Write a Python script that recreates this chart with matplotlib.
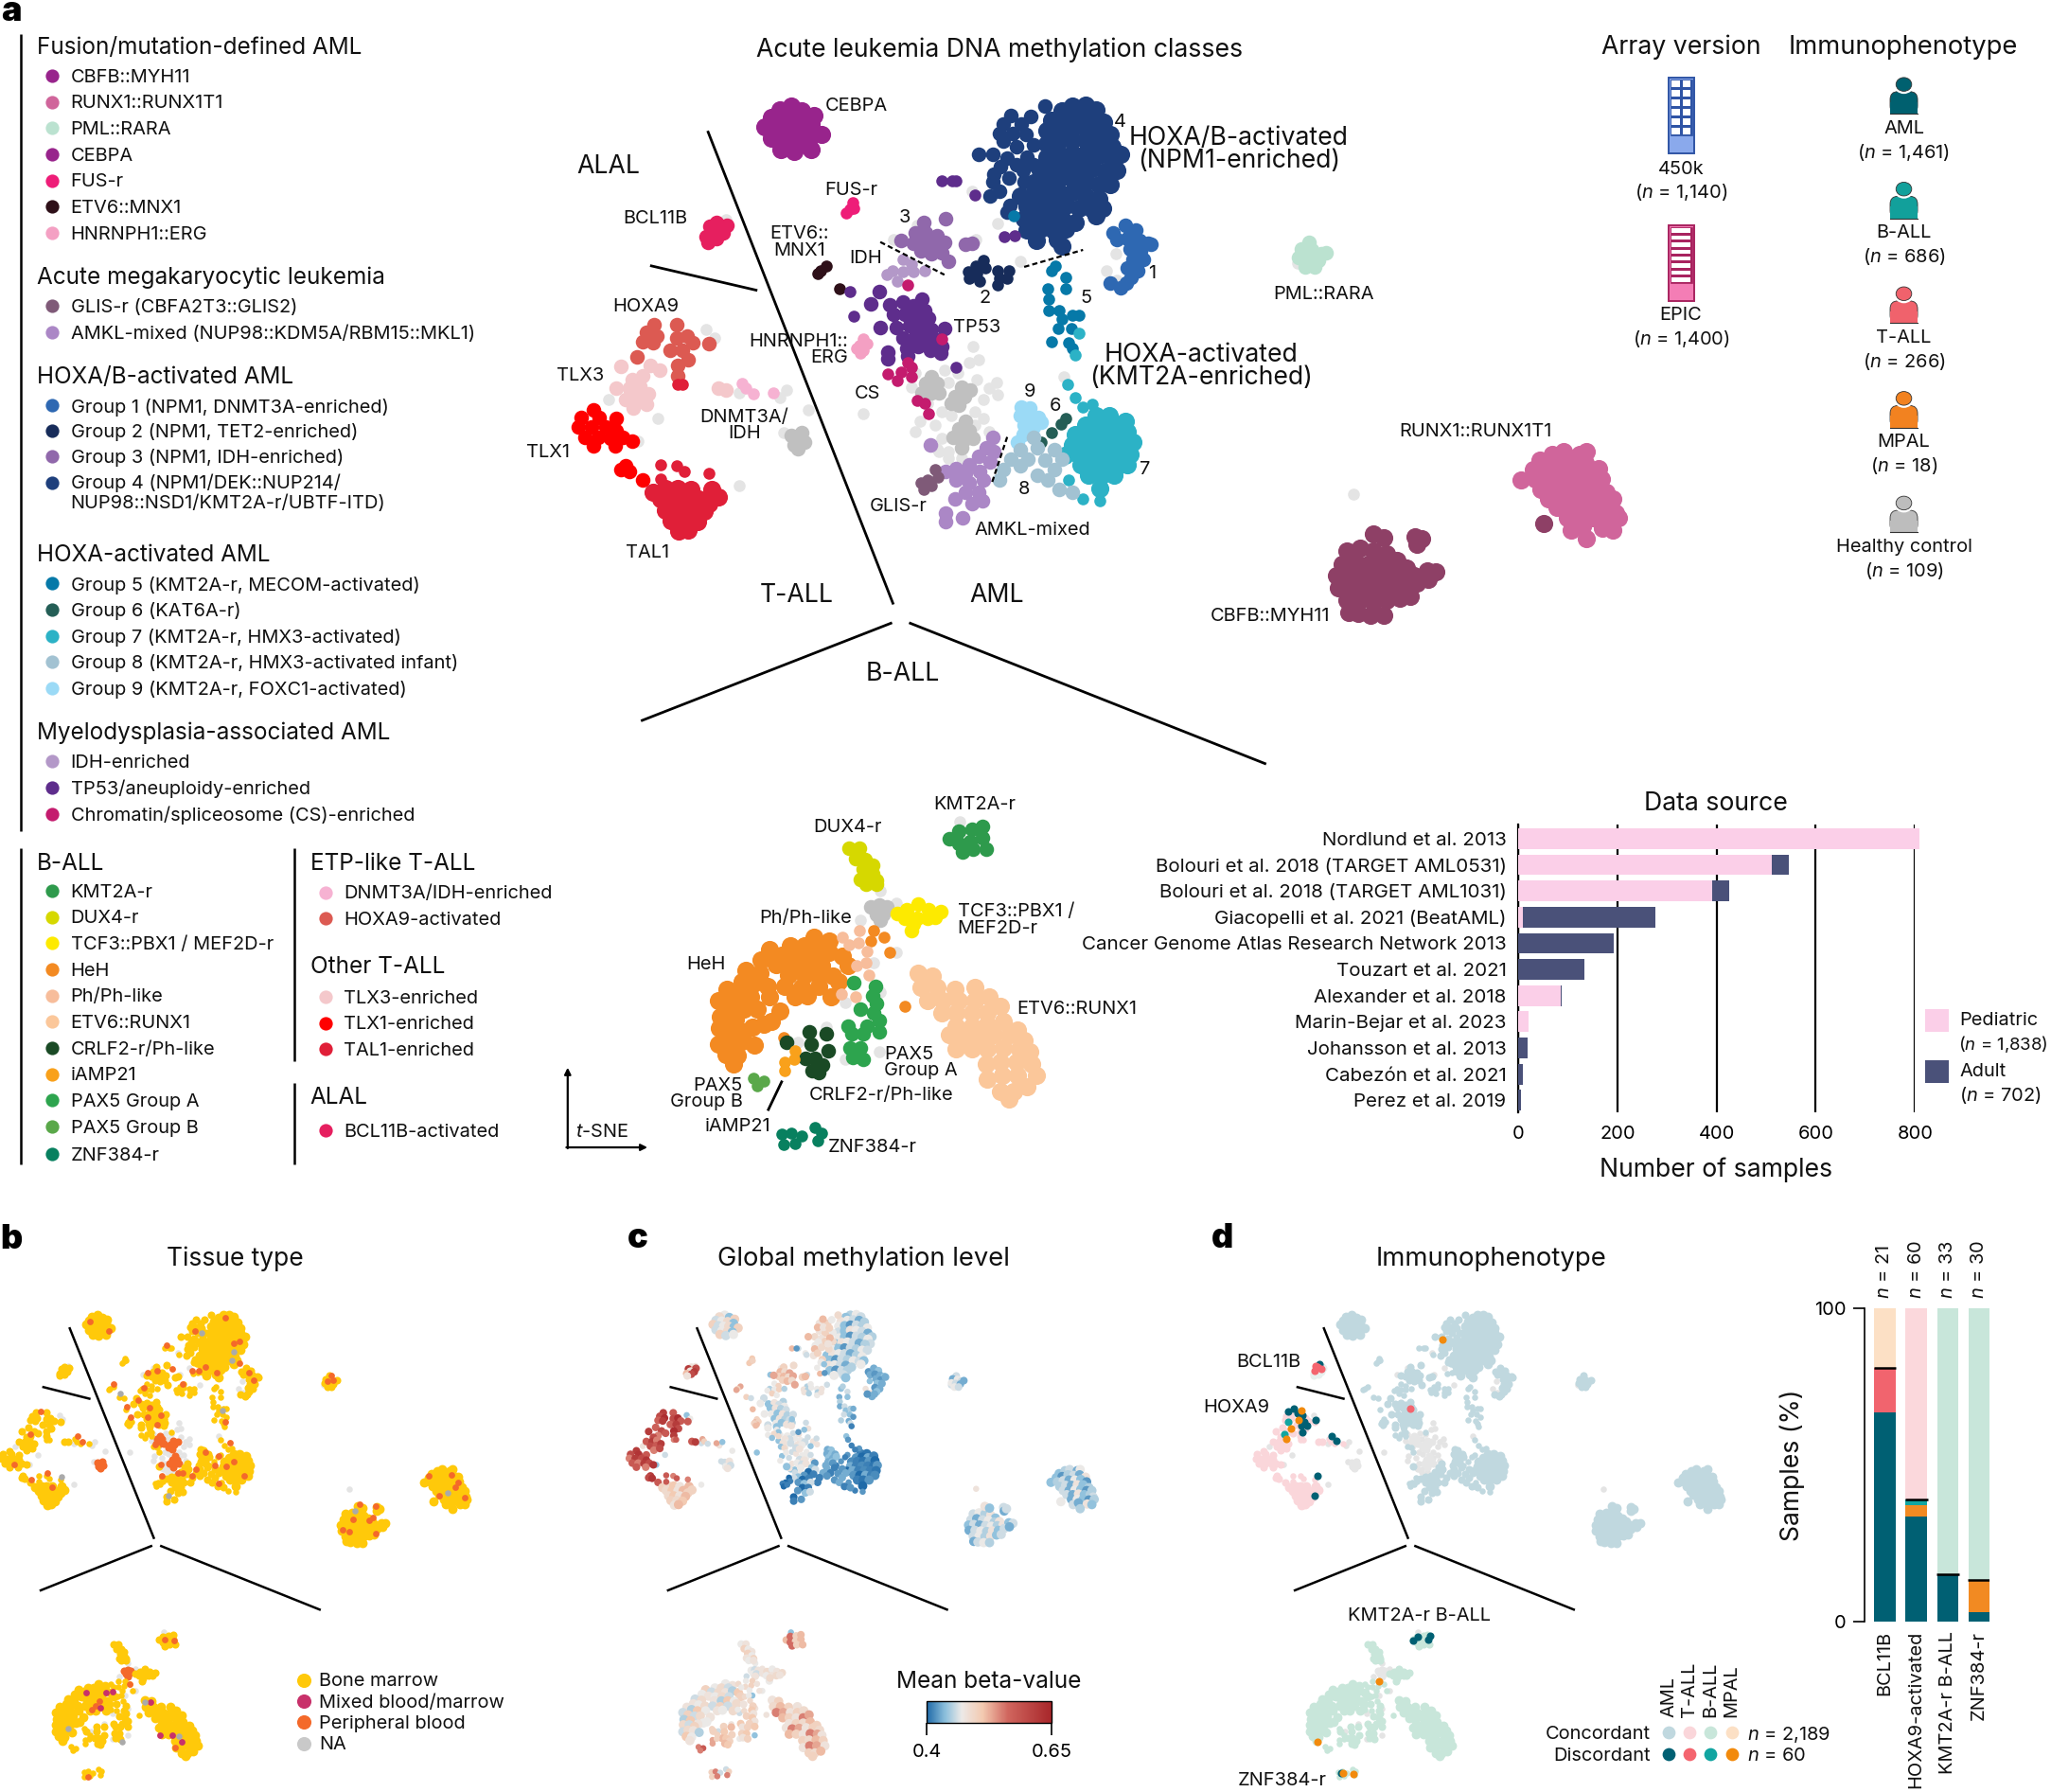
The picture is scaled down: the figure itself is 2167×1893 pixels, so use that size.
import itertools
import matplotlib
matplotlib.use("Agg")
import matplotlib.pyplot as plt
from matplotlib import patches
from matplotlib.colors import LinearSegmentedColormap, Normalize
from matplotlib.cm import ScalarMappable

plt.rcParams['font.family'] = ['Inter', 'DejaVu Sans']
plt.rcParams['mathtext.fontset'] = 'custom'
plt.rcParams['mathtext.rm'] = 'Inter'
plt.rcParams['mathtext.it'] = 'Inter:italic'
plt.rcParams['axes.unicode_minus'] = False

# --- t-SNE points ---
cbfb = [(1030,421),(1040,419),(1050,421),(1060,423),(1068,428),(1026,431),(1036,429),(1046,431),(1056,432),(1066,435),(1075,434),
        (1022,440),(1031,439),(1041,440),(1051,441),(1061,442),(1071,441),(1081,440),(1091,436),(1098,437),(1023,449),(1033,449),
        (1043,450),(1053,451),(1063,450),(1073,449),(1083,446),(1092,443),(1030,459),(1040,459),(1050,460),(1060,459),(1070,457),
        (1078,456),(1031,468),(1038,469),(1048,470),(1058,470),(1050,408),(1058,411),(1082,410),(1083,416),(1087,412),(1180,400)]
runx1 = [(1177,352),(1187,347),(1195,345),(1208,347),(1213,345),(1172,359),(1182,357),(1192,354),(1202,355),(1212,354),(1222,358),
         (1163,367),(1174,366),(1184,364),(1194,363),(1204,363),(1214,362),(1224,366),(1178,374),(1188,372),(1198,372),(1208,371),
         (1218,371),(1228,376),(1184,381),(1194,381),(1204,380),(1214,379),(1224,381),(1233,381),(1190,388),(1200,388),(1210,387),
         (1220,388),(1230,388),(1235,392),(1198,396),(1208,396),(1218,396),(1228,397),(1237,396),(1201,405),(1210,402),(1225,404),
         (1233,405),(1213,412)]
pml = [(1001,185),(995,190),(1003,191),(1010,194),(1014,193),(993,197),(1000,198),(1008,199),(998,204),(1005,204)]
cebpa = [(605,81),(596,84),(613,85),(622,88),(590,90),(600,91),(610,92),(620,95),(585,97),(594,99),(603,100),(612,100),(621,101),
         (628,103),(590,106),(600,108),(610,108),(618,110),(597,114),(607,116),(620,114)]
fus = [(652,155),(650,160),(647,163),(653,159)]
bcl11b = [(548,170),(543,173),(552,174),(556,172),(546,177),(553,178),(540,181),(548,182),(541,185)]
etv6_mnx1 = [(632,203),(627,207),(625,209),(642,221)]
hnrnph1 = [(660,259),(657,264),(663,263),(660,268),(655,266),(658,270)]
group4 = [(820,81),(830,80),(838,84),(812,85),(804,92),(815,90),(825,89),(835,90),(844,93),(800,100),(810,99),(820,98),(830,98),
          (840,100),(849,103),(800,110),(810,108),(820,107),(830,107),(840,109),(850,112),(857,118),(800,120),(810,118),(820,117),
          (830,117),(840,119),(850,122),(854,130),(795,130),(805,128),(815,127),(825,127),(835,129),(845,131),(790,140),(800,138),
          (810,137),(820,137),(830,139),(840,141),(849,141),(780,150),(790,148),(800,147),(810,147),(820,147),(830,150),(840,152),
          (785,158),(795,157),(805,156),(815,157),(825,159),(835,160),(843,159),(783,167),(793,166),(803,166),(812,167),(822,170),
          (838,165),(785,176),(795,175),(805,176),(815,175),(792,184),(808,183),(812,188)]
group4_arm = [(767,95),(781,95),(788,89),(799,81),(773,88),(767,108),(777,112),(790,111),(759,118),(748,118),(770,121),(777,126),
              (760,133),(783,139),(759,139),(757,150),(772,157),(770,162),(790,126),(764,102),(774,102),(784,103),(765,127),(771,136),
              (785,120),(782,130),(764,146)]
group1 = [(851,178),(860,172),(868,176),(854,183),(862,182),(871,184),(878,186),(864,190),(872,192),(880,187),(866,198),(874,198),
          (862,205),(870,207),(865,212),(857,220),(849,216),(861,216)]
group2 = [(746,203),(752,199),(740,208),(747,209),(753,205),(741,213),(749,215),(763,207),(771,207),(764,213),(763,218),(770,213)]
group3 = [(706,170),(700,178),(708,178),(716,180),(698,186),(706,186),(714,187),(722,185),(704,192),(712,194),(720,193),(725,200),
          (738,187),(743,186),(723,167),(689,184)]
idh = [(690,198),(697,202),(682,207),(690,208),(698,208),(707,207),(678,210),(686,215)]
tp53 = [(672,223),(666,232),(680,233),(690,231),(705,229),(698,234),(707,237),(683,240),(692,240),(701,241),(710,243),(685,250),
        (695,249),(704,250),(712,252),(722,251),(673,250),(690,258),(699,258),(708,259),(716,260),(693,266),(702,265),(711,268),
        (720,265),(679,269),(679,274),(694,272),(719,270)]
tp53_strays = [(650,223),(653,242),(731,281),(731,138),(720,138),(728,138),(745,149),(768,181),(776,180)]
cs = [(694,277),(697,281),(689,284),(679,286),(686,291),(697,288),(694,218),(701,306),(707,308),(710,316),(720,259)]
group5 = [(804,207),(807,203),(801,221),(815,212),(815,221),(802,229),(802,237),(810,237),(812,244),(820,241),(825,241),(809,251),
          (819,251),(804,261),(817,262),(820,266),(775,165)]
group7 = [(838,318),(848,318),(830,325),(840,324),(850,325),(860,322),(822,332),(832,331),(842,331),(852,331),(862,330),(820,340),
          (830,339),(840,339),(850,339),(860,339),(866,338),(814,348),(824,347),(834,347),(844,347),(854,347),(864,347),(826,355),
          (836,355),(846,355),(856,355),(862,355),(832,363),(842,363),(852,363),(841,373)]
group7_strays = [(825,255),(822,271),(816,294),(822,304),(835,309),(828,311),(817,367),(828,381),(841,383)]
group9 = [(781,311),(787,312),(780,318),(788,319),(794,319),(783,325),(790,326),(796,323),(782,332),(789,332),(778,338)]
group6 = [(815,320),(811,324),(804,331),(796,338)]
group8 = [(790,334),(780,344),(793,342),(806,344),(773,351),(786,351),(799,352),(812,351),(767,359),(780,356),(806,359),(764,367),
          (793,363),(801,367),(810,374),(820,376)]
amkl = [(759,334),(754,342),(760,345),(748,349),(757,353),(741,355),(731,358),(723,360),(738,362),(749,360),(731,367),(741,369),
        (752,367),(738,376),(748,376),(730,381),(743,385),(751,383),(723,392),(723,399),(736,396),(711,340)]
glis = [(715,359),(717,365),(709,367),(704,369),(706,374),(712,371)]
hoxa9 = [(500,248),(494,254),(502,257),(517,248),(491,261),(499,262),(517,258),(525,257),(530,262),(512,268),(522,268),(526,275),
         (518,279),(542,263),(487,273),(518,287)]
tlx3 = [(497,279),(504,283),(475,280),(491,287),(483,290),(471,297),(481,297),(489,295),(478,305),(488,304),(496,301),(484,312),
        (494,309),(549,297),(555,298)]
tlx1 = [(454,313),(444,319),(458,319),(471,320),(442,326),(452,326),(463,326),(471,329),(447,334),(457,334),(467,335),(476,334),
        (483,337),(454,341),(470,341),(478,356),(475,359),(481,360),(491,367)]
tal1 = [(499,376),(509,373),(518,373),(528,374),(544,374),(549,380),(505,381),(515,381),(525,381),(534,381),(542,385),(509,390),
        (518,390),(528,390),(538,391),(513,398),(523,398),(533,399),(519,406),(526,405)]
tal1_strays = [(505,355),(517,356),(523,360),(542,362),(505,366),(518,294),(522,294)]
dnmt3a = [(567,293),(570,297),(576,301),(591,300)]
kmt2a_b = [(726,641),(733,635),(743,634),(751,632),(733,645),(742,643),(751,640),(736,651),(744,649),(754,649)]
dux4 = [(649,648),(657,648),(654,656),(661,657),(667,661),(660,664),(667,668),(658,672),(670,673),(662,676),(670,676)]
tcf3 = [(686,698),(693,695),(702,691),(710,695),(719,697),(692,702),(701,702),(709,702),(697,711),(715,701),(698,706)]
heh = [(622,716),(634,719),(604,723),(615,723),(627,723),(588,726),(598,730),(610,731),(622,731),(634,728),(644,731),(582,734),
       (593,737),(604,738),(616,738),(628,738),(648,738),(570,742),(581,744),(603,745),(615,745),(626,745),(637,746),(567,750),
       (576,752),(587,754),(600,754),(613,755),(626,754),(641,750),(556,756),(564,760),(574,762),(588,762),(608,762),(617,761),
       (635,762),(549,765),(558,769),(569,771),(579,771),(596,773),(551,777),(562,779),(584,783),(575,785),(590,781),(550,786),
       (560,786),(569,789),(549,798),(558,795),(567,796),(577,799),(555,806),(564,807),(561,813)]
heh_strays = [(599,793),(680,728),(668,711),(676,716),(666,719),(692,769)]
ph_like = [(644,716),(657,711),(656,721),(663,727),(655,738),(662,736),(664,745),(643,760),(654,762),(649,722)]
etv6_runx1 = [(702,744),(713,746),(704,755),(716,755),(730,756),(745,755),(709,765),(721,765),(733,765),(745,765),(756,762),(720,774),
              (731,774),(743,774),(755,774),(765,769),(731,784),(743,784),(755,783),(767,781),(778,787),(726,791),(736,793),(748,792),
              (760,791),(772,791),(783,795),(731,802),(743,802),(755,802),(767,801),(779,802),(787,804),(754,813),(765,812),(777,812),
              (789,813),(755,825),(766,822),(778,822),(792,822),(765,834),(775,834),(785,831),(771,840)]
pax5a = [(669,754),(667,761),(670,767),(658,771),(668,774),(672,780),(663,784),(648,784),(651,790),(660,790),(672,789),(653,751),
         (650,801),(658,801),(652,808),(660,810)]
crlf2 = [(619,789),(632,790),(620,798),(633,803),(616,809),(623,809),(629,814),(621,818),(626,820),(601,797)]
iamp21 = [(608,803),(600,812),(607,810),(600,818)]
pax5b = [(576,824),(584,826),(579,830)]
znf384 = [(598,867),(605,866),(613,868),(599,875),(608,874),(623,862),(628,866),(625,872)]
# grey: unclassified samples, and the darker healthy control clusters
unclassified = [(744,265),(748,275),(741,277),(700,285),(722,283),(732,285),(697,296),(725,292),(747,290),(756,297),(752,305),(745,315),
                (720,315),(727,318),(703,322),(700,330),(715,325),(720,335),(725,345),(745,325),(752,320),(756,330),(718,345),(735,350),
                (725,350),(716,343),(660,316),(709,308),(762,292),(763,302),(813,288),(763,171),(780,200),(846,207),(853,194),(743,146),
                (746,183),(854,214),(683,183),(701,172),(992,201),(1035,378),(540,252),(546,258),(503,320),(465,305),(488,337),(565,371),
                (565,300),(596,304),(601,298),(618,313),(599,331),(555,168),(734,628),(673,681),(658,703),(685,690),(668,736),(685,728),
                (646,766),(673,758),(672,804),(646,810),(610,797),(632,785)]
control = [(712,288),(716,293),(708,293),(712,300),(718,300),(705,300),(735,296),(742,298),(730,303),(737,303),(727,308),(733,310),
           (738,322),(733,328),(741,329),(729,334),(737,336),(744,335),(735,342),(605,333),(613,331),(607,340),(615,338),(610,343),
           (666,693),(672,692),(678,693),(670,699),(675,699),(673,703)]

# cluster colours; beta-values repeat over the points of each cluster
BONE, MIXED, BLOOD, NA = '#ffc90a', '#c8316a', '#f4692a', '#c9c9c9'
AML_C, TALL_C, BALL_C = '#c0d8df', '#fad6da', '#c8e6da'
GREY_L, GREY_D = '#e4e4e4', '#c0c0c0'
clusters = [
    (unclassified, GREY_L, GREY_L, [.46,.48,.44,.47]),
    (control, GREY_D, '#e6e6e6', [.47,.46,.48]),
    (cbfb, '#8e4066', AML_C, [.46,.47,.45,.48,.44,.46,.43]),
    (runx1, '#d0659b', AML_C, [.44,.45,.46,.43,.47,.44,.42,.45,.46,.43,.48]),
    (pml, '#bbe2d0', AML_C, [.46,.43,.47]),
    (cebpa, '#98248c', AML_C, [.47,.49,.44,.50,.46]),
    (fus, '#ee1d78', AML_C, [.51,.5]),
    (bcl11b, '#e61f5f', '#e8f0ee', [.48,.62,.52,.6]),
    (etv6_mnx1, '#2e1019', AML_C, [.53,.5]),
    (hnrnph1, '#f4a0c3', AML_C, [.5,.52]),
    (group4, '#1e3f7c', AML_C, [.45,.47,.46,.44,.48,.47,.46,.43,.45,.47,.44,.42,.46]),
    (group4_arm, '#1e3f7c', AML_C, [.48,.5,.47,.49,.52]),
    (group1, '#2e68b2', AML_C, [.42,.43,.44,.43]),
    (group2, '#172c5a', AML_C, [.45,.47,.48]),
    (group3, '#9068ab', AML_C, [.5,.52,.49,.53]),
    (idh, '#b398c8', AML_C, [.47,.5,.45]),
    (tp53, '#5e2d8c', AML_C, [.46,.47,.44,.48,.45]),
    (tp53_strays, '#5e2d8c', AML_C, [.46,.52,.42]),
    (cs, '#c41b6e', AML_C, [.47,.44,.49]),
    (group5, '#0679a8', AML_C, [.44,.45,.43,.46]),
    (group7, '#2cb2c6', AML_C, [.41,.405,.42,.40,.43,.41,.415]),
    (group7_strays, '#2cb2c6', AML_C, [.42,.41]),
    (group9, '#9bdaf6', AML_C, [.43,.44]),
    (group6, '#245e56', AML_C, [.42,.41]),
    (group8, '#a2c2d2', AML_C, [.42,.43,.41]),
    (amkl, '#ab87c6', AML_C, [.42,.44,.46,.40,.41]),
    (glis, '#7f5a78', AML_C, [.40,.41]),
    (hoxa9, '#dc5a52', TALL_C, [.62,.6,.64,.58,.57]),
    (tlx3, '#f4c8cb', TALL_C, [.6,.58,.62,.55]),
    (tlx1, '#fe0000', TALL_C, [.62,.6,.63,.58,.55]),
    (tal1, '#e01f38', TALL_C, [.5,.49,.51,.48,.52]),
    (tal1_strays, '#e01f38', TALL_C, [.58,.55]),
    (dnmt3a, '#f6b2d2', TALL_C, [.53,.5,.46]),
    (kmt2a_b, '#2e9a4c', BALL_C, [.52,.56,.5]),
    (dux4, '#d6d800', BALL_C, [.47,.48,.5]),
    (tcf3, '#fdea00', BALL_C, [.48,.49,.47]),
    (heh, '#f38a22', BALL_C, [.47,.48,.47,.49,.46,.5,.46,.49,.48,.45,.51]),
    (heh_strays, '#f38a22', BALL_C, [.5,.48]),
    (ph_like, '#f7bd9b', BALL_C, [.49,.47]),
    (etv6_runx1, '#fbc79a', BALL_C, [.48,.5,.49,.52,.5,.48,.55,.53]),
    (pax5a, '#2da44e', BALL_C, [.5,.51,.48]),
    (crlf2, '#1a4a25', BALL_C, [.5,.52,.51]),
    (iamp21, '#f9a11b', BALL_C, [.5,.53]),
    (pax5b, '#5aa84a', BALL_C, [.55,.58]),
    (znf384, '#08805f', BALL_C, [.5,.55,.46]),
]
dense = [cbfb, runx1, cebpa, group4, group7, etv6_runx1, heh, tal1]
medium = [group4_arm, hoxa9, tlx1, tlx3, group1, group3, tp53, kmt2a_b, amkl, group8, pml, control, group9, dux4, tcf3, crlf2, bcl11b, pax5a]

# panel b overlays, panel d discordant samples (positions)
tissue_blood = [(69,1010),(83,1017),(149,1017),(172,1007),(183,1025),(179,1027),(157,1045),(152,1048),(166,1049),(183,1042),(190,1049),
                (194,1055),(127,1028),(147,1048),(120,1048),(113,1049),(132,1046),(140,1058),(110,1061),(87,1058),(97,1075),(100,1083),
                (106,1070),(114,1076),(123,1082),(113,1083),(120,1089),(119,1104),(123,1119),(172,1087),(176,1103),(157,1110),(167,1113),
                (179,1117),(164,1120),(173,1121),(187,1128),(167,1134),(150,1123),(147,1128),(140,1126),(136,1126),(124,1128),(31,1079),
                (23,1096),(11,1119),(24,1131),(36,1126),(40,1137),(59,1098),(63,1102),(250,1056),(253,1051),(255,1055),(328,1128),
                (345,1127),(350,1133),(348,1137),(336,1143),(355,1145),(262,1169),(275,1150),(282,1162),(267,1171),(287,1172),(270,1161),
                (287,1151),(285,1160),(76,1300),(70,1307),(126,1253),(133,1254),(99,1287),(134,1336),(67,1358),(73,1304)]
tissue_mixed = [(66,1294),(81,1294),(122,1326),(139,1331),(115,1301),(77,1305),(86,1293),(132,1326)]
tissue_na = [(154,1019),(179,1033),(177,1040),(170,1078),(47,1129),(92,1065),(271,1155),(342,1141),(129,1143),(93,1331),(111,1301),
             (137,1327),(52,1321)]
disc_aml = [(985,1079),(989,1077),(992,1080),(996,1082),(997,1087),(995,1090),(999,1090),(996,1095),(1006,1085),(1018,1098),(1022,1101),
            (1007,1128),(1005,1143),(1080,1254),(1084,1251),(1092,1253),(1093,1250),(1025,1355),(1009,1043)]
disc_tall = [(1078,1077),(1005,1048),(1007,1045),(1010,1046),(1006,1044)]
disc_ball = [(985,1087),(982,1096)]
disc_mpal = [(995,1078),(993,1085),(987,1092),(983,1100),(1103,1024),(1054,1285),(1007,1331),(1027,1355),(1035,1356)]

# --- bar data ---
studies = ['Nordlund et al. 2013', 'Bolouri et al. 2018 (TARGET AML0531)', 'Bolouri et al. 2018 (TARGET AML1031)',
           'Giacopelli et al. 2021 (BeatAML)', 'Cancer Genome Atlas Research Network 2013', 'Touzart et al. 2021',
           'Alexander et al. 2018', 'Marin-Bejar et al. 2023', 'Johansson et al. 2013', 'Cabezón et al. 2021', 'Perez et al. 2019']
pediatric = [809, 512, 391, 9, 0, 0, 86, 21, 0, 0, 0]
adult = [0, 33, 35, 267, 192, 134, 2, 0, 19, 9, 6]

disc_groups = ['BCL11B', 'HOXA9-activated', 'KMT2A-r B-ALL', 'ZNF384-r']
disc_n = [21, 60, 33, 30]
seg_aml = [66.6, 33.6, 15.2, 3.0]
seg_mpal_low = [0, 3.6, 0, 10.2]
seg_ball = [0, 1.7, 0, 0]
seg_tall = [14.4, 0, 0, 0]
seg_conc_tall = [0, 61.1, 0, 0]
seg_conc_ball = [0, 0, 84.8, 86.8]
seg_conc_mpal = [19, 0, 0, 0]

legend_left = [
    ('Fusion/mutation-defined AML', 35, [
        ('CBFB::MYH11', 58, '#98248c'), ('RUNX1::RUNX1T1', 78, '#d0659b'), ('PML::RARA', 98, '#bbe2d0'), ('CEBPA', 118, '#98248c'),
        ('FUS-r', 138, '#ee1d78'), ('ETV6::MNX1', 158, '#2e1019'), ('HNRNPH1::ERG', 178, '#f4a0c3')]),
    ('Acute megakaryocytic leukemia', 211, [
        ('GLIS-r (CBFA2T3::GLIS2)', 234, '#7f5a78'), ('AMKL-mixed (NUP98::KDM5A/RBM15::MKL1)', 254, '#ab87c6')]),
    ('HOXA/B-activated AML', 287, [
        ('Group 1 (NPM1, DNMT3A-enriched)', 310, '#2e68b2'), ('Group 2 (NPM1, TET2-enriched)', 329, '#172c5a'),
        ('Group 3 (NPM1, IDH-enriched)', 349, '#9068ab'), ('Group 4 (NPM1/DEK::NUP214/\nNUP98::NSD1/KMT2A-r/UBTF-ITD)', 369, '#1e3f7c')]),
    ('HOXA-activated AML', 423, [
        ('Group 5 (KMT2A-r, MECOM-activated)', 446, '#0679a8'), ('Group 6 (KAT6A-r)', 466, '#245e56'),
        ('Group 7 (KMT2A-r, HMX3-activated)', 486, '#2cb2c6'), ('Group 8 (KMT2A-r, HMX3-activated infant)', 506, '#a2c2d2'),
        ('Group 9 (KMT2A-r, FOXC1-activated)', 526, '#9bdaf6')]),
    ('Myelodysplasia-associated AML', 559, [
        ('IDH-enriched', 582, '#b398c8'), ('TP53/aneuploidy-enriched', 602, '#5e2d8c'),
        ('Chromatin/spliceosome (CS)-enriched', 622, '#c41b6e')]),
    ('B-ALL', 659, [
        ('KMT2A-r', 681, '#2e9a4c'), ('DUX4-r', 701, '#d6d800'), ('TCF3::PBX1 / MEF2D-r', 721, '#fdea00'), ('HeH', 741, '#f38a22'),
        ('Ph/Ph-like', 761, '#f7bd9b'), ('ETV6::RUNX1', 781, '#fbc79a'), ('CRLF2-r/Ph-like', 801, '#1a4a25'), ('iAMP21', 821, '#f9a11b'),
        ('PAX5 Group A', 841, '#2da44e'), ('PAX5 Group B', 861, '#5aa84a'), ('ZNF384-r', 882, '#08805f')]),
]
legend_right = [
    ('ETP-like T-ALL', 659, [('DNMT3A/IDH-enriched', 682, '#f6b2d2'), ('HOXA9-activated', 702, '#dc5a52')]),
    ('Other T-ALL', 738, [('TLX3-enriched', 762, '#f4c8cb'), ('TLX1-enriched', 782, '#fe0000'), ('TAL1-enriched', 802, '#e01f38')]),
    ('ALAL', 838, [('BCL11B-activated', 864, '#e61f5f')]),
]

labels_a = [
    ('CEBPA', 655, 80, 'center'), ('FUS-r', 651, 144, 'center'), ('BCL11B', 501, 166, 'center'), ('ETV6::\nMNX1', 611, 184, 'center'),
    ('IDH', 662, 196, 'center'), ('3', 692, 165, 'center'), ('2', 753, 227, 'center'), ('1', 881, 208, 'center'), ('4', 856, 92, 'center'),
    ('5', 830, 227, 'center'), ('TP53', 747, 249, 'center'), ('HOXA9', 494, 233, 'center'), ('TLX3', 444, 286, 'center'),
    ('TLX1', 419, 345, 'center'), ('TAL1', 495, 421, 'center'), ('HNRNPH1::\nERG', 648, 266, 'right'), ('CS', 663, 300, 'center'),
    ('DNMT3A/\nIDH', 569, 324, 'center'), ('9', 787, 298, 'center'), ('6', 807, 309, 'center'), ('7', 875, 358, 'center'),
    ('8', 783, 373, 'center'), ('GLIS-r', 687, 386, 'center'), ('AMKL-mixed', 789, 404, 'center'), ('PML::RARA', 1012, 224, 'center'),
    ('RUNX1::RUNX1T1', 1128, 329, 'center'), ('CBFB::MYH11', 971, 470, 'center'), ('KMT2A-r', 745, 614, 'center'),
    ('DUX4-r', 648, 631, 'center'), ('Ph/Ph-like', 616, 701, 'center'), ('TCF3::PBX1 /\nMEF2D-r', 732, 702, 'left'), ('HeH', 540, 736, 'center'),
    ('ETV6::RUNX1', 777, 770, 'left'), ('PAX5\nGroup A', 676, 811, 'left'), ('PAX5\nGroup B', 568, 835, 'right'),
    ('CRLF2-r/Ph-like', 674, 836, 'center'), ('iAMP21', 589, 860, 'right'), ('ZNF384-r', 633, 876, 'left'),
    ('BCL11B', 970, 1040, 'center'), ('HOXA9', 945, 1075, 'center'), ('KMT2A-r B-ALL', 1085, 1234, 'center'), ('ZNF384-r', 980, 1360, 'center'),
]
labels_big = [
    ('ALAL', 465, 126, 19.2), ('T-ALL', 609, 454, 19.2), ('AML', 762, 454, 19.2), ('B-ALL', 690, 514, 19.2),
    ('Acute leukemia DNA methylation classes', 764, 37, 19.2), ('Array version', 1285, 35, 19.2), ('Immunophenotype', 1455, 35, 19.7),
    ('Data source', 1312, 613, 19.2), ('Number of samples', 1312, 893, 19.2),
    ('Tissue type', 180, 961, 19.0), ('Global methylation level', 660, 961, 19.7), ('Immunophenotype', 1140, 961, 19.8),
    ('Mean beta-value', 756, 1284, 17.6),
]
immuno = [('AML', '(n = 1,461)', '#00606f', 59), ('B-ALL', '(n = 686)', '#12a09b', 139), ('T-ALL', '(n = 266)', '#f0626c', 219),
          ('MPAL', '(n = 18)', '#f28220', 299), ('Healthy control', '(n = 109)', '#bdbdbd', 379)]

VW, VH = 1568.0, 1369.7
S = 0.447
ITEM, HEAD, TITLE = 14.4, 17.5, 19.2

fig = plt.figure(figsize=(21.67, 18.93), dpi=100)
canvas = fig.add_axes([0, 0, 1, 1])
canvas.set_xlim(0, VW)
canvas.set_ylim(VH, 0)
canvas.axis('off')


def txt(x, y, s, size=ITEM, ha='left', va='center', **kw):
    kw.setdefault('linespacing', 0.95)
    return canvas.text(x, y + 1.2, s.replace('(n =', '($\\mathit{n}$ ='), fontsize=size, ha=ha, va=va, color='#111111', **kw)


def seg(x0, y0, x1, y1, lw=2.0, **kw):
    canvas.plot([x0, x1], [y0, y1], color='black', lw=lw, solid_capstyle='butt', **kw)


def xy(pts):
    return [p[0] for p in pts], [p[1] for p in pts]


def is_in(pts, group):
    return any(pts is g for g in group)


# panel a map
for pts, col, _, _ in clusters:
    size = 190 if is_in(pts, dense) else 125 if is_in(pts, medium) else 82
    canvas.scatter(*xy(pts), s=size, color=col, linewidths=0)

for label, x, y, ha in labels_a:
    txt(x, y, label, ha=ha)
for label, x, y, size in labels_big:
    txt(x, y, label, size=size, ha='center')
txt(947, 113, 'HOXA/B-activated\n(NPM1-enriched)', size=TITLE, ha='center', linespacing=0.92)
txt(918, 279, 'HOXA-activated\n(KMT2A-enriched)', size=TITLE, ha='center', linespacing=0.92)

seg(541, 100, 683, 462)
seg(497, 203, 579, 222)
seg(490, 551, 682, 476)
seg(695, 476, 968, 584)
for x0, y0, x1, y1 in [(673, 185, 722, 210), (783, 204, 828, 191), (770, 334, 758, 370)]:
    canvas.plot([x0, x1], [y0, y1], color='black', lw=1.6, dashes=(2.5, 1.5))
seg(598, 826, 587, 849)

# t-SNE arrows
canvas.annotate('', xy=(434, 816), xytext=(434, 877.7), arrowprops=dict(arrowstyle='-|>', color='black', lw=1.6, shrinkA=0, shrinkB=0))
canvas.annotate('', xy=(495, 877), xytext=(433, 877), arrowprops=dict(arrowstyle='-|>', color='black', lw=1.6, shrinkA=0, shrinkB=0))
txt(440, 864, '$\\mathit{t}$-SNE')

# left legends
for x_head, groups in [(28, legend_left), (237, legend_right)]:
    for head, yh, items in groups:
        txt(x_head, yh, head, size=HEAD)
        for label, y, col in items:
            canvas.scatter([x_head + 12], [y], s=105, color=col, linewidths=0)
            if '\n' in label:
                txt(x_head + 26, y - 8, label, va='top', linespacing=1.2)
            else:
                txt(x_head + 26, y, label)
seg(16, 26, 16, 635, lw=1.8)
seg(16, 648, 16, 890, lw=1.8)
seg(225, 648, 225, 811, lw=1.8)
seg(225, 828, 225, 890, lw=1.8)

# array icons
for top, edge, fill, ncol, nrow in [(59, '#2f54a5', '#8aa9ec', 2, 6), (172, '#a8235f', '#f47db5', 1, 8)]:
    canvas.add_patch(patches.Rectangle((1275.5, top), 19.5, 58, fc=fill, ec=edge, lw=1.4, zorder=3))
    canvas.add_patch(patches.Rectangle((1277, top + 1.5), 16.5, 43, fc=edge, ec=edge, lw=0.5, zorder=3))
    ch = 43.0 / nrow
    cw = 16.5 / ncol
    for i in range(ncol):
        for j in range(nrow):
            canvas.add_patch(patches.Rectangle((1277 + i * cw + 1.2, top + 1.5 + j * ch + 1.1), cw - 2.4, ch - 2.2, fc='white', ec='none', zorder=4))
txt(1285, 128, '450k', ha='center')
txt(1285, 146, '(n = 1,140)', ha='center')
txt(1285, 240, 'EPIC', ha='center')
txt(1285, 258, '(n = 1,400)', ha='center')

# person icons
for name, count, col, top in immuno:
    cx = 1455.5
    canvas.add_patch(patches.FancyBboxPatch((cx - 10.5, top + 11), 21, 17, boxstyle='round,pad=0,rounding_size=6', fc=col, ec='#333333', lw=0.6, zorder=3))
    canvas.add_patch(patches.Rectangle((cx - 10.5, top + 19), 21, 9, fc=col, ec='none', zorder=3))
    canvas.plot([cx - 10.5, cx + 10.5], [top + 28, top + 28], color='#333333', lw=0.8, zorder=4)
    canvas.add_patch(patches.Ellipse((cx, top + 6), 15, 13.5, fc='white', ec='none', zorder=4))
    canvas.add_patch(patches.Ellipse((cx, top + 5.5), 12, 10.5, fc=col, ec='#333333', lw=0.6, zorder=5))
    txt(cx, top + 38, name, ha='center')
    txt(cx, top + 56, count, ha='center')

# data source bars
ax_src = fig.add_axes([1160.7 / VW, 1 - 850 / VH, (1464 - 1160.7) / VW, 220 / VH])
ax_src.patch.set_alpha(0)
ypos = list(range(len(studies)))
ax_src.barh(ypos, pediatric, height=0.79, color='#fbcfe8', zorder=3)
ax_src.barh(ypos, adult, left=pediatric, height=0.79, color='#4a5179', zorder=3)
ax_src.set_xlim(0, 800)
ax_src.set_ylim(10.45, -0.55)
ax_src.set_yticks(ypos)
ax_src.set_yticklabels(studies, fontsize=14.8, color='#111111')
ax_src.set_xticks([0, 200, 400, 600, 800])
ax_src.tick_params(axis='x', length=0, labelsize=ITEM, pad=10)
ax_src.tick_params(axis='y', length=0, pad=9)
ax_src.grid(axis='x', color='black', lw=1.6, zorder=1)
ax_src.set_axisbelow(True)
for side in ['top', 'right', 'bottom']:
    ax_src.spines[side].set_visible(False)
ax_src.spines['left'].set_linewidth(1.6)
for p in ax_src.patches:
    p.set_clip_on(False)
canvas.add_patch(patches.Rectangle((1472, 771.5), 17.5, 17.5, fc='#fbcfe8', ec='none'))
canvas.add_patch(patches.Rectangle((1472, 810.5), 17.5, 17.5, fc='#4a5179', ec='none'))
txt(1498, 779, 'Pediatric')
txt(1497, 797, '(n = 1,838)', size=13.4)
txt(1498, 818, 'Adult')
txt(1498, 836, '(n = 702)')

# small embeddings
OFF_UP = (-196, 969)
OFF_LOW = (-203, 967)


def embed_axes(dx, low):
    off = OFF_LOW if low else OFF_UP
    x0, x1, y0, y1 = (520, 810, 605, 885) if low else (400, 1260, 60, 490)
    ax = fig.add_axes([(off[0] + dx + S * x0) / VW, 1 - (off[1] + S * y1) / VH, S * (x1 - x0) / VW, S * (y1 - y0) / VH])
    ax.set_xlim(x0, x1)
    ax.set_ylim(y1, y0)
    ax.axis('off')
    return ax


beta_cmap = LinearSegmentedColormap.from_list('beta', [(0, '#1f6aa8'), (.15, '#8dc0dc'), (.28, '#ece9e7'), (.45, '#f3c9b0'), (.65, '#d0665e'), (1, '#a8262a')])
beta_norm = Normalize(0.4, 0.65)
axes_b = (embed_axes(0, False), embed_axes(0, True))
axes_c = (embed_axes(479.6, False), embed_axes(479.6, True))
axes_d = (embed_axes(958.8, False), embed_axes(958.8, True))
for pts, _, dcol, betas in clusters:
    if pts is control:
        bcol = BLOOD
    elif pts is unclassified:
        bcol = GREY_L
    else:
        bcol = BONE
    size = 50 if is_in(pts, dense) else 34 if is_in(pts, medium) else 22
    values = [v for _, v in zip(pts, itertools.cycle(betas))]
    for i, low in enumerate((False, True)):
        part = [(p, v) for p, v in zip(pts, values) if (p[1] >= 600) == low]
        if not part:
            continue
        part_xy = [p for p, _ in part]
        axes_b[i].scatter(*xy(part_xy), s=size, color=bcol, linewidths=0)
        axes_d[i].scatter(*xy(part_xy), s=size, color=dcol, linewidths=0)
        axes_c[i].scatter(*xy(part_xy), s=size, c=[v for _, v in part], cmap=beta_cmap, norm=beta_norm, linewidths=0)

for dx in (0, 479.6, 958.8):
    for x0, y0, x1, y1 in [(53, 1014.5, 117.9, 1176.3), (32.3, 1060, 69.2, 1069.3), (30.3, 1215.9, 116.4, 1181.4), (122.4, 1181.4, 245.2, 1230.6)]:
        seg(x0 + dx, y0, x1 + dx, y1, lw=1.8)

# overlays on top of the small embeddings
top_ax = fig.add_axes([0, 0, 1, 1])
top_ax.set_xlim(0, VW)
top_ax.set_ylim(VH, 0)
top_ax.axis('off')
for pts, col, size in [(tissue_blood, BLOOD, 24), (tissue_mixed, MIXED, 24), (tissue_na, '#aaaaaa', 22)]:
    top_ax.scatter(*xy(pts), s=size, color=col, linewidths=0)
for pts, col in [(disc_aml, '#006073'), (disc_tall, '#f4656f'), (disc_ball, '#12a5a1'), (disc_mpal, '#f28a0c')]:
    top_ax.scatter(*xy(pts), s=34, color=col, linewidths=0)

# panel b legend
for label, y, col in [('Bone marrow', 1284, BONE), ('Mixed blood/marrow', 1300.5, MIXED), ('Peripheral blood', 1316.5, BLOOD), ('NA', 1332.5, NA)]:
    canvas.scatter([232], [y], s=118, color=col, linewidths=0)
    txt(244, y, label)

# colour bar
ax_cb = fig.add_axes([708.3 / VW, 1 - 1316.6 / VH, 95.7 / VW, 16.1 / VH])
cb = fig.colorbar(ScalarMappable(norm=beta_norm, cmap=beta_cmap), cax=ax_cb, orientation='horizontal')
cb.set_ticks([0.4, 0.65], labels=['0.4', '0.65'])
cb.ax.tick_params(length=9, width=1.2, labelsize=ITEM, pad=7)
cb.outline.set_linewidth(1.0)

# panel d legend
for i, (name, conc, disc) in enumerate(zip(['AML', 'T-ALL', 'B-ALL', 'MPAL'], ['#c0d8df', '#fad6da', '#c8e6da', '#fce0c5'], ['#006073', '#f4656f', '#12a5a1', '#f28a0c'])):
    x = 1275.8 + i * 16
    canvas.scatter([x], [1324.4], s=98, color=conc, linewidths=0)
    canvas.scatter([x], [1340.8], s=98, color=disc, linewidths=0)
    txt(x, 1311, name, rotation=90, ha='center', va='bottom')
txt(1262, 1324.4, 'Concordant', ha='right')
txt(1262, 1340.8, 'Discordant', ha='right')
txt(1336, 1324.4, '$\\mathit{n}$ = 2,189')
txt(1336, 1340.8, '$\\mathit{n}$ = 60')

# discordance bars
ax_d = fig.add_axes([1425.2 / VW, 1 - 1239.6 / VH, (1521 - 1425.2) / VW, (1239.6 - 999.8) / VH])
ax_d.patch.set_alpha(0)
xb = list(range(len(disc_groups)))
bottom = [0.0] * 4
for vals, col in [(seg_aml, '#006073'), (seg_mpal_low, '#f28a22'), (seg_ball, '#12a5a1'), (seg_tall, '#f1646e'),
                  (seg_conc_tall, '#fbd8dc'), (seg_conc_ball, '#c8e6da'), (seg_conc_mpal, '#fce0c5')]:
    ax_d.bar(xb, vals, bottom=bottom, width=0.68, color=col)
    bottom = [b + v for b, v in zip(bottom, vals)]
disc_total = [a + b + c + d for a, b, c, d in zip(seg_aml, seg_mpal_low, seg_ball, seg_tall)]
ax_d.hlines(disc_total, [i - 0.36 for i in xb], [i + 0.36 for i in xb], color='black', lw=1.8)
ax_d.set_xlim(-0.658, 3.33)
ax_d.set_ylim(0, 100)
ax_d.set_yticks([0, 100])
ax_d.set_xticks(xb)
ax_d.set_xticklabels(disc_groups, rotation=90, fontsize=ITEM, color='#111111')
ax_d.tick_params(axis='x', length=0, pad=7)
ax_d.tick_params(axis='y', length=9, width=1.2, labelsize=ITEM, pad=5)
ax_d.set_ylabel('Samples (%)', fontsize=TITLE, labelpad=7, color='#111111')
for side in ['top', 'right', 'bottom']:
    ax_d.spines[side].set_visible(False)
ax_d.spines['left'].set_linewidth(1.2)
for i, n in zip(xb, disc_n):
    ax_d.text(i, 103, f'$\\mathit{{n}}$ = {n}', rotation=90, ha='center', va='bottom', fontsize=ITEM, color='#111111')

# panel letters
for letter, x, y in [('a', 1, 16), ('b', 0, 954.5), ('c', 480, 954), ('d', 926, 954)]:
    canvas.text(x, y, letter, fontsize=26, fontweight='black', ha='left', va='baseline', color='black')

fig.savefig('out.png', dpi=100)
